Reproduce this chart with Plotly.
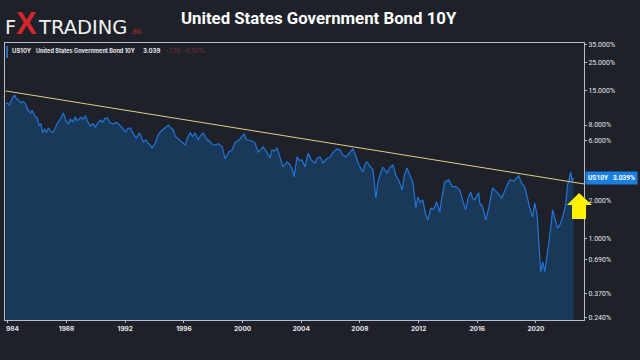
import plotly.graph_objects as go

BG = "#1e2129"
AXIS = "#b9bdc8"
TXT = "#e4e6eb"

years_a = [1983.84,1983.98,1984.11,1984.28,1984.45,1984.56,1984.7,1984.86,1985.03,1985.2,1985.36,1985.54,1985.64,1985.74,1985.88,1986.01,1986.12,1986.25,1986.36,1986.5,1986.63,1986.76,1986.93,1987.1,1987.24,1987.38,1987.58,1987.78,1987.95]
yields_a = [11.74,11.9,11.53,12.9,13.84,13.0,12.7,12.0,12.3,11.74,10.6,9.96,10.4,9.96,9.3,9.1,7.9,8.2,6.92,7.4,7.0,7.58,7.1,7.05,7.7,8.3,8.9,9.96,8.7]
years_b = [1988.13,1988.25,1988.42,1988.6,1988.7,1988.81,1988.95,1989.12,1989.28,1989.45,1989.62,1989.79,1989.96,1990.13,1990.3,1990.45,1990.62,1990.78,1990.98,1991.19,1991.38,1991.6,1991.8]
yields_b = [8.15,8.9,8.5,9.26,8.7,8.77,9.2,8.9,9.43,8.5,7.86,8.2,7.7,8.3,8.77,8.4,9.0,9.1,8.3,8.15,8.4,8.0,7.6]
years_c = [1992.0,1992.18,1992.35,1992.55,1992.75,1992.96,1993.1,1993.23,1993.4,1993.57,1993.84,1994.05,1994.22,1994.39,1994.65,1994.93,1995.1,1995.27,1995.42,1995.55,1995.8]
yields_c = [7.05,7.5,7.58,6.8,6.32,6.92,6.4,5.87,6.1,5.76,5.27,5.76,6.6,7.05,7.5,8.0,7.6,7.31,6.5,6.32,5.9]
years_d = [1996.09,1996.26,1996.43,1996.6,1996.77,1996.97,1997.14,1997.31,1997.55,1997.79,1997.96,1998.13,1998.37,1998.61,1998.71,1998.81,1999.05,1999.29,1999.5,1999.77]
yields_d = [5.56,6.4,6.92,6.5,6.92,6.09,6.6,6.92,6.2,5.87,5.6,5.56,5.7,5.36,4.7,4.31,4.9,5.08,5.87,6.09]
years_e = [2000.1,2000.24,2000.38,2000.62,2000.85,2001.06,2001.23,2001.4,2001.64,2001.87,2002.01,2002.18,2002.35,2002.55,2002.76,2003.03,2003.24,2003.38,2003.51,2003.71,2003.88]
yields_e = [6.8,6.2,6.09,6.0,5.76,4.88,5.1,5.36,4.9,4.38,5.08,5.0,5.27,4.4,3.72,4.08,3.86,3.6,3.1,4.47,4.2]
years_f = [2004.05,2004.26,2004.46,2004.7,2004.94,2005.11,2005.28,2005.49,2005.72,2005.96,2006.2,2006.44,2006.64,2006.85,2007.05,2007.28,2007.52,2007.73,2007.93]
yields_f = [4.23,3.72,4.8,4.2,4.0,4.4,4.47,4.0,4.3,4.47,4.9,5.17,5.08,4.6,4.47,4.8,5.17,4.5,3.86]
years_g = [2008.21,2008.34,2008.48,2008.68,2008.89,2009.09,2009.23,2009.4,2009.57,2009.84,2010.05,2010.25,2010.45,2010.66,2010.87,2011.04,2011.21,2011.4,2011.61,2011.82,2011.95]
yields_g = [3.39,3.9,4.08,3.8,3.53,2.11,2.83,3.3,3.72,3.33,3.7,3.86,3.2,2.9,2.45,3.2,3.66,3.2,2.83,1.76,2.15]
years_h = [2012.12,2012.29,2012.46,2012.63,2012.83,2013.03,2013.24,2013.44,2013.61,2013.78,2014.05,2014.3,2014.55,2014.8,2015.0,2015.21,2015.38,2015.55,2015.68,2015.82]
yields_h = [1.95,2.04,1.6,1.41,1.75,1.72,1.96,1.64,2.2,2.83,2.94,2.6,2.6,2.45,2.05,1.70,2.1,2.36,2.1,2.04]
years_i = [2016.1,2016.17,2016.37,2016.58,2016.8,2017.05,2017.33,2017.67,2017.94,2018.21,2018.5,2018.83,2019.04,2019.24,2019.41,2019.58,2019.78,2019.92]
yields_i = [2.32,1.93,1.8,1.41,1.8,2.54,2.36,2.11,2.5,2.94,2.88,3.16,2.75,2.58,2.15,1.76,1.49,1.93]
years_j = [2020.08,2020.2,2020.27,2020.33,2020.47,2020.53,2020.6,2020.77,2020.94,2021.04,2021.14,2021.31,2021.48,2021.65,2021.82,2022.03,2022.16,2022.27,2022.37,2022.47,2022.57]
yields_j = [1.55,0.85,0.7,0.55,0.66,0.58,0.55,0.75,1.02,1.3,1.70,1.45,1.22,1.3,1.49,1.86,2.68,2.95,3.39,2.9,3.04]

years = years_a + years_b + years_c + years_d + years_e + years_f + years_g + years_h + years_i + years_j
yields = yields_a + yields_b + yields_c + yields_d + yields_e + yields_f + yields_g + yields_h + yields_i + yields_j
assert len(years) == len(yields)

trend_years = [1983.84, 2023.28]
trend_values = [14.9, 2.73]

x_ticks = [1984,1988,1992,1996,2000,2004,2008,2012,2016,2020]
x_labels = ["","<b>1988</b>","<b>1992</b>","<b>1996</b>","<b>2000</b>","<b>2004</b>","<b>2008</b>","<b>2012</b>","<b>2016</b>","<b>2020</b>"]
y_ticks = [35,25,15,8,6,2,1,0.69,0.37,0.24]
y_labels = ["35.000%","25.000%","15.000%","8.000%","6.000%","2.000%","1.000%","0.690%","0.370%","0.240%"]

L, R, T, B = 5, 584, 43, 320
def px(x): return (x - L) / (R - L)
def py(y): return (B - y) / (B - T)

fig = go.Figure()
fig.add_trace(go.Scatter(x=years, y=yields, mode="lines", fill="tozeroy",
    line=dict(color="#1f76dc", width=1.2), fillcolor="#1a3858", hoverinfo="skip"))
fig.add_trace(go.Scatter(x=trend_years, y=trend_values, mode="lines",
    line=dict(color="#e6cb83", width=1), hoverinfo="skip"))

def note(x, y, text, size, color, font="Inter", anchor="left", **kw):
    fig.add_annotation(xref="paper", yref="paper", x=px(x), y=py(y), text=text, showarrow=False,
        xanchor=anchor, yanchor="middle", font=dict(size=size, color=color, family=font), **kw)

note(319, 18, "<b>United States Government Bond 10Y</b>", 16.8, "#ffffff", "Roboto", "center")
note(3, 27, "F", 19.5, "#f2f2f2", "DejaVu Sans")
note(14, 24, "<b>X</b>", 31, "#d5262b", "Liberation Sans")
note(36, 27, "TRADING", 19.5, "#f2f2f2", "DejaVu Sans")
note(129, 31, "<b>.BG</b>", 6, "#8c2a2c", "Inter")
note(10, 51, "<b>US10Y</b>", 6, TXT)
note(34, 51, "<b>United States Government Bond 10Y</b>", 5.6, TXT)
note(141, 51, "<b>3.039</b>", 6, TXT)
note(163, 51, "−1.50 −0.50%", 6, "#7c3136")
note(4, 329, "<b>984</b>", 6.5, TXT)
note(584.5, 178, "<b>US10Y   3.039%</b>", 6.6, "#ffffff", "Roboto", bgcolor="#1a7fe0", borderpad=2)

fig.add_shape(type="rect", xref="paper", yref="paper", x0=px(6.2), x1=px(8), y0=py(58), y1=py(46),
              fillcolor="#2a6fd0", line_width=0)
arrow = [(579,193),(567,205),(572,205),(572,219),(586,219),(586,205),(592,205)]
path = "M " + " L ".join(f"{px(a):.4f} {py(b):.4f}" for a, b in arrow) + " Z"
fig.add_shape(type="path", xref="paper", yref="paper", path=path, fillcolor="#fff200", line_width=0)

fig.update_layout(width=640, height=360, autosize=False, paper_bgcolor=BG, plot_bgcolor=BG,
    margin=dict(l=L, r=640-R, t=T, b=360-B), showlegend=False,
    xaxis=dict(range=[1983.8,2023.28], tickmode="array", tickvals=x_ticks, ticktext=x_labels,
        showgrid=False, zeroline=False, showline=True, mirror=True, linecolor=AXIS, linewidth=1,
        ticks="outside", ticklen=2, tickcolor=AXIS,
        tickfont=dict(size=6.5, color=TXT, family="Inter")),
    yaxis=dict(type="log", range=[-0.642,1.553], side="right", tickmode="array", tickvals=y_ticks,
        ticktext=y_labels, showgrid=False, zeroline=False, showline=True, mirror=True, linecolor=AXIS,
        linewidth=1, ticks="outside", ticklen=2, tickcolor=AXIS,
        tickfont=dict(size=7, color=TXT, family="Roboto")))
fig.write_html("out.html", config={"displayModeBar": False},
    post_script="document.body.style.margin='0';document.body.style.background='#1e2129';document.body.style.overflow='hidden';")
